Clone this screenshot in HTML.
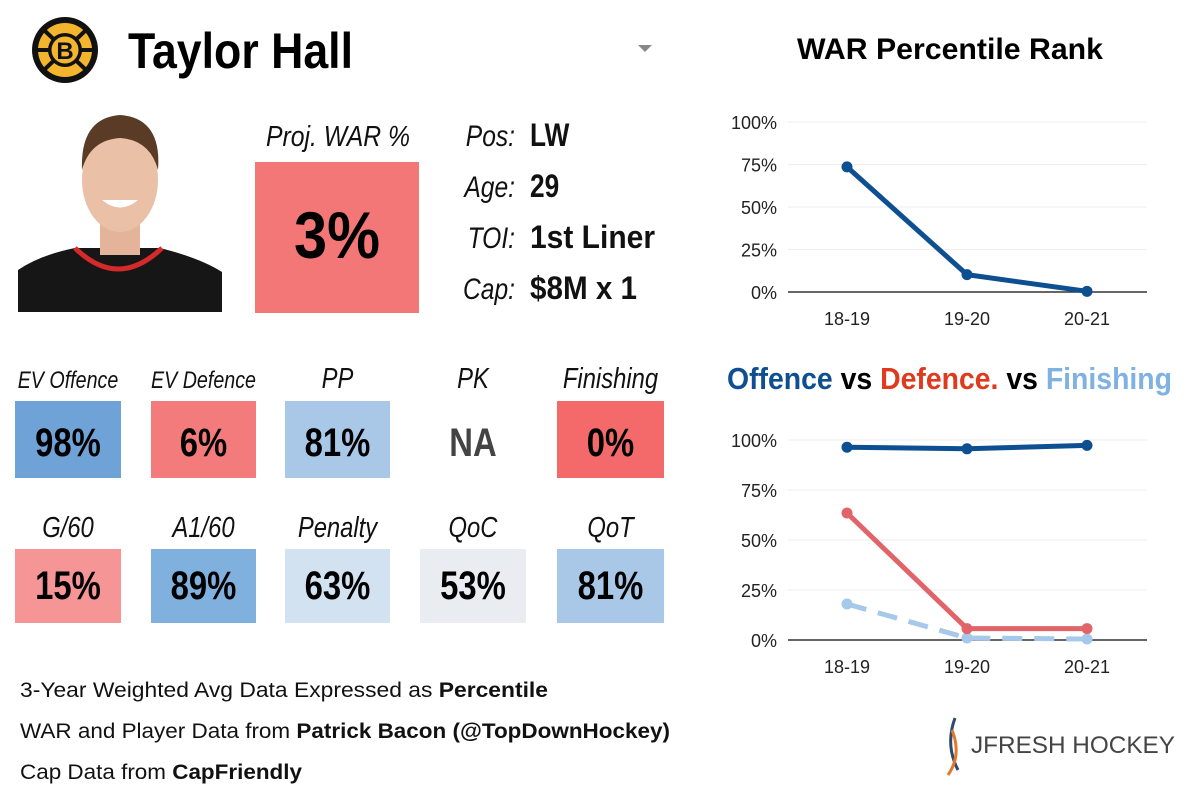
<!DOCTYPE html>
<html><head><meta charset="utf-8"><style>
html,body{margin:0;padding:0;background:#fff;}
svg{display:block;font-family:"Liberation Sans Narrow","Liberation Sans",sans-serif;}
</style></head><body>
<svg id="root" width="1200" height="803" viewBox="0 0 1200 803" xmlns="http://www.w3.org/2000/svg">
<rect width="1200" height="803" fill="#fff"/>
<g>
<circle cx="65" cy="50" r="33" fill="#111"/>
<circle cx="65" cy="50" r="27" fill="#f4b52e"/>
<circle cx="65" cy="50" r="17" fill="#111"/>
<g stroke="#111" stroke-width="4"><line x1="38" y1="50" x2="92" y2="50"/><line x1="45" y1="31" x2="85" y2="69"/><line x1="45" y1="69" x2="85" y2="31"/></g>
<circle cx="65" cy="50" r="15" fill="#f4b52e" stroke="#111" stroke-width="3"/>
<text x="65" y="59" text-anchor="middle" font-size="24" font-weight="bold" fill="#111">B</text>
</g>
<text x="128" y="68" font-size="50" font-weight="bold" fill="#000" textLength="225" lengthAdjust="spacingAndGlyphs">Taylor Hall</text>
<polygon points="638,45 652,45 645,52" fill="#888"/>
<g>
<path d="M18,312 L18,270 Q40,255 75,248 L160,248 Q200,258 222,272 L222,312 Z" fill="#161616"/>
<path d="M75,248 Q118,290 162,248" fill="none" stroke="#d42a2a" stroke-width="5"/>
<rect x="100" y="215" width="40" height="40" fill="#e4b49a"/>
<ellipse cx="120" cy="180" rx="38" ry="52" fill="#eac0a6"/>
<path d="M82,170 Q80,118 120,115 Q162,118 158,170 Q150,140 120,138 Q90,140 82,170 Z" fill="#5a3b26"/>
<path d="M102,200 Q120,215 138,200 Z" fill="#fff"/>
</g>
<text x="266" y="146" font-size="29" font-style="italic" fill="#111" textLength="144" lengthAdjust="spacingAndGlyphs">Proj. WAR %</text>
<rect x="255" y="162" width="164" height="151" fill="#f47777"/>
<text x="337" y="258" font-size="66" font-weight="bold" text-anchor="middle" fill="#000" textLength="86" lengthAdjust="spacingAndGlyphs">3%</text>
<g font-size="30" fill="#111">
<text class="cond" x="515" y="146" text-anchor="end" font-style="italic">Pos:</text>
<text class="cond" x="530" y="146" font-weight="bold" font-size="32">LW</text>
<text class="cond" x="515" y="197" text-anchor="end" font-style="italic">Age:</text>
<text class="cond" x="530" y="197" font-weight="bold" font-size="32">29</text>
<text class="cond" x="515" y="248" text-anchor="end" font-style="italic">TOI:</text>
<text x="530" y="248" font-weight="bold" font-size="32" textLength="125" lengthAdjust="spacingAndGlyphs">1st Liner</text>
<text class="cond" x="515" y="299" text-anchor="end" font-style="italic">Cap:</text>
<text x="530" y="299" font-weight="bold" font-size="32" textLength="107" lengthAdjust="spacingAndGlyphs">$8M x 1</text>
</g>
<g id="tiles"></g>
<g font-size="21" fill="#111">
<text x="20" y="697" textLength="528" lengthAdjust="spacingAndGlyphs">3-Year Weighted Avg Data Expressed as <tspan font-weight="bold">Percentile</tspan></text>
<text x="20" y="738" textLength="650" lengthAdjust="spacingAndGlyphs">WAR and Player Data from <tspan font-weight="bold">Patrick Bacon (@TopDownHockey)</tspan></text>
<text x="20" y="779" textLength="282" lengthAdjust="spacingAndGlyphs">Cap Data from <tspan font-weight="bold">CapFriendly</tspan></text>
</g>
<g>
<path d="M955,718 Q945,745 958,770" fill="none" stroke="#2c4a6e" stroke-width="3"/>
<path d="M952,730 Q962,755 948,775" fill="none" stroke="#e07a2a" stroke-width="3"/>
<text x="971" y="753" font-size="24" fill="#444" textLength="204" lengthAdjust="spacingAndGlyphs">JFRESH HOCKEY</text>
</g>
<text x="950" y="59" font-size="30" font-weight="bold" text-anchor="middle" fill="#000" textLength="306" lengthAdjust="spacingAndGlyphs">WAR Percentile Rank</text>
<text x="727" y="389" font-size="31" font-weight="bold" textLength="445" lengthAdjust="spacingAndGlyphs"><tspan fill="#0d4f91">Offence</tspan> <tspan fill="#000">vs</tspan> <tspan fill="#e03a1e">Defence.</tspan> <tspan fill="#000">vs</tspan> <tspan fill="#7fb2e2">Finishing</tspan></text>
<g id="chart1"></g>
<g id="chart2"></g>
</svg>
<script>
const seasons = ["18-19","19-20","20-21"];
const yTicks = [0,25,50,75,100];
const warValues = [73.6,10.2,0.4];
const offenceValues = [96.4,95.6,97.3];
const defenceValues = [63.5,5.7,5.7];
const finishingValues = [18,1,0.5];
const tileLabels = ["EV Offence","EV Defence","PP","PK","Finishing","G/60","A1/60","Penalty","QoC","QoT"];
const tileValues = ["98%","6%","81%","NA","0%","15%","89%","63%","53%","81%"];
const tileColors = ["#6fa3d8","#f47b7b","#a9c8e8","none","#f46a6a","#f59595","#80b0de","#d3e2f1","#e9edf2","#a9c8e8"];

const NS="http://www.w3.org/2000/svg";
function mk(tag,attrs,parent,txt){const e=document.createElementNS(NS,tag);for(const k in attrs)e.setAttribute(k,attrs[k]);if(txt!=null)e.textContent=txt;parent.appendChild(e);return e;}

const tg=document.getElementById('tiles');
const tx=[15,151,285,420,557], tw=[106,105,105,106,107];
tileLabels.forEach((lab,i)=>{
  const r=Math.floor(i/5), c=i%5;
  const y0=r?549:401, h=r?74:77, ly=r?537:388;
  const cx=tx[c]+tw[c]/2;
  const g=mk('g',{},tg);
  
  
  mk('text',{class:'cond',x:cx,y:ly,'text-anchor':'middle','font-size':(c<2&&r==0)?24:29,'font-style':'italic',fill:'#111'},g,lab);
  if(tileColors[i]!=='none') mk('rect',{x:tx[c],y:y0,width:tw[c],height:h,fill:tileColors[i]},g);
  mk('text',{class:'cond',x:cx,y:y0+(r?50:55),'text-anchor':'middle','font-size':40,'font-weight':'bold',fill:tileValues[i]==='NA'?'#444':'#000'},g,tileValues[i]);
});

function chart(el,top,bottom,seriesList){
  const x0=788,x1=1147;
  const xs=i=>847+i*120;
  const ys=v=>bottom-(v/100)*(bottom-top);
  yTicks.forEach(t=>{
    const y=ys(t);
    const ln=mk('line',{x1:x0,x2:x1,y1:y,y2:y,stroke:t===0?'#333':'#eee','stroke-width':t===0?1.5:1},el);
    
    
    const tl=mk('text',{x:777,y:y+7,'text-anchor':'end','font-size':18,fill:'#222','font-family':'Liberation Sans, sans-serif'},el,t+'%');
    
    
  });
  seasons.forEach((s,i)=>{
    const t=mk('text',{x:xs(i),y:bottom+33,'text-anchor':'middle','font-size':18,fill:'#222','font-family':'Liberation Sans, sans-serif'},el,s);
    
    
  });
  seriesList.forEach(s=>{
    const pts=s.vals.map((v,i)=>xs(i)+','+ys(v)).join(' ');
    const pl=mk('polyline',{points:pts,fill:'none',stroke:s.color,'stroke-width':5,'stroke-linejoin':'round'},el);
    if(s.dash) pl.setAttribute('stroke-dasharray','20 12');
    
    
    s.vals.forEach((v,i)=>{
      const c=mk('circle',{cx:xs(i),cy:ys(v),r:5.5,fill:s.color},el);
      
      
    });
  });
}
chart(document.getElementById('chart1'),122,292,[{name:'war',vals:warValues,color:'#0d4f91'}]);
chart(document.getElementById('chart2'),440,640,[
  {name:'finishing',vals:finishingValues,color:'#a6c8ea',dash:true},
  {name:'defence',vals:defenceValues,color:'#e06468'},
  {name:'offence',vals:offenceValues,color:'#0d4f91'}]);

document.querySelectorAll('text.cond').forEach(t=>{
  const w=t.getComputedTextLength();
  t.setAttribute('textLength',(w*0.82).toFixed(1));
  t.setAttribute('lengthAdjust','spacingAndGlyphs');
});
</script>
</body></html>
